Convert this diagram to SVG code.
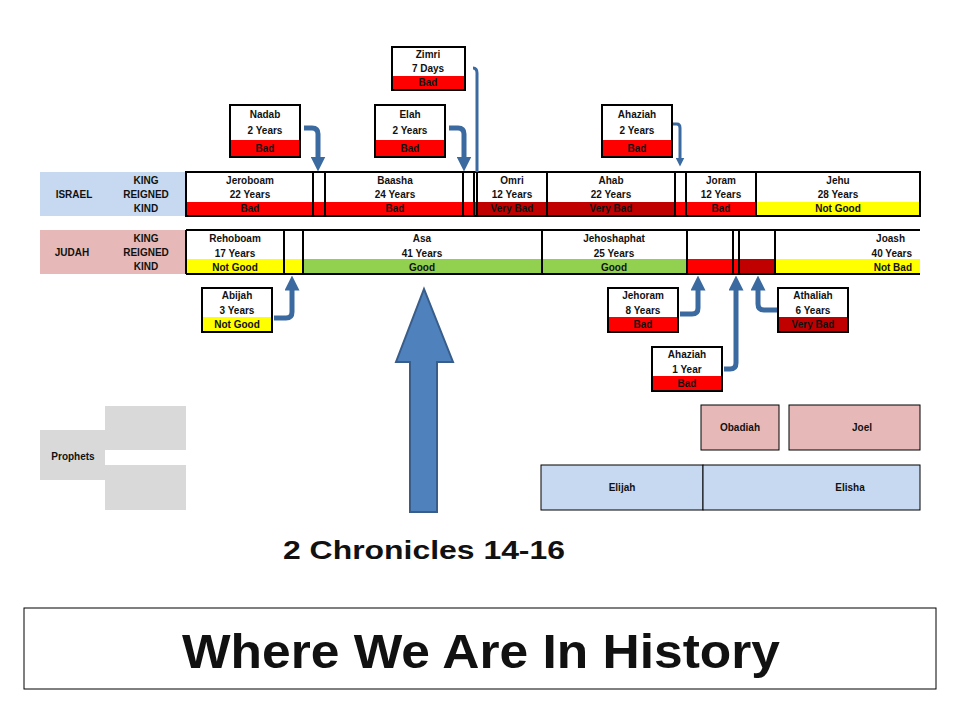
<svg xmlns="http://www.w3.org/2000/svg" width="960" height="720" viewBox="0 0 960 720">
<style>
text{font-family:"Liberation Sans",Arial,sans-serif;font-weight:bold;font-size:10px;fill:#111;text-anchor:middle}
.c{fill:#fff;stroke:#000;stroke-width:2}
.r{fill:#ff0000}.d{fill:#c00000}.y{fill:#ffff00}.g{fill:#92d050}
.ln{fill:none;stroke:#000;stroke-width:2}
.ar{fill:none;stroke:#3b6aa0;stroke-width:5;stroke-linecap:butt}
</style>
<defs>
<marker id="ah" markerWidth="3" markerHeight="3" refX="1.5" refY="1.5" orient="auto"><path d="M0,0L3,1.5L0,3z" fill="#3b6aa0"/></marker>
</defs>
<rect width="960" height="720" fill="#fff"/>
<g id="israel">
<rect x="40" y="172" width="146" height="44" fill="#c6d9f1"/>
<text x="74" y="198">ISRAEL</text>
<text x="146" y="184">KING</text><text x="146" y="198">REIGNED</text><text x="146" y="212">KIND</text>
<rect x="186" y="202" width="734" height="14" class="r"/>
<rect x="477" y="202" width="198" height="14" class="d"/>
<rect x="756" y="202" width="164" height="14" class="y"/>
<rect x="186" y="172" width="734" height="44" class="ln"/>
<path class="ln" d="M313,172V216M325,172V216M463,172V216M474,172V216M477,172V216M547,172V216M675,172V216M686,172V216M756,172V216"/>
<text x="250" y="184">Jeroboam</text><text x="250" y="198">22 Years</text><text x="250" y="212">Bad</text>
<text x="395" y="184">Baasha</text><text x="395" y="198">24 Years</text><text x="395" y="212">Bad</text>
<text x="512" y="184">Omri</text><text x="512" y="198">12 Years</text><text x="512" y="212">Very Bad</text>
<text x="611" y="184">Ahab</text><text x="611" y="198">22 Years</text><text x="611" y="212">Very Bad</text>
<text x="721" y="184">Joram</text><text x="721" y="198">12 Years</text><text x="721" y="212">Bad</text>
<text x="838" y="184">Jehu</text><text x="838" y="198">28 Years</text><text x="838" y="212">Not Good</text>
</g>
<g id="judah">
<rect x="40" y="230" width="146" height="44" fill="#e6b9b8"/>
<text x="72" y="256">JUDAH</text>
<text x="146" y="242">KING</text><text x="146" y="256">REIGNED</text><text x="146" y="270">KIND</text>
<rect x="186" y="259" width="117" height="15" class="y"/>
<rect x="303" y="259" width="384" height="15" class="g"/>
<rect x="687" y="259" width="52" height="15" class="r"/>
<rect x="739" y="259" width="36" height="15" class="d"/>
<rect x="775" y="259" width="145" height="15" class="y"/>
<path class="ln" d="M186,230H920M186,274H920M186,230V274M284,230V274M303,230V274M542,230V274M687,230V274M733,230V274M739,230V274M775,230V274"/>
<text x="235" y="242">Rehoboam</text><text x="235" y="257">17 Years</text><text x="235" y="271">Not Good</text>
<text x="422" y="242">Asa</text><text x="422" y="257">41 Years</text><text x="422" y="271">Good</text>
<text x="614" y="242">Jehoshaphat</text><text x="614" y="257">25 Years</text><text x="614" y="271">Good</text>
<text x="905" y="242" style="text-anchor:end">Joash</text><text x="912" y="257" style="text-anchor:end">40 Years</text><text x="912" y="271" style="text-anchor:end">Not Bad</text>
</g>
<g id="nadab"><rect x="230" y="105" width="70" height="52" class="c"/><rect x="231" y="140" width="68" height="16" class="r"/><text x="265" y="118">Nadab</text><text x="265" y="134">2 Years</text><text x="265" y="152">Bad</text></g>
<g id="elah"><rect x="375" y="105" width="70" height="52" class="c"/><rect x="376" y="140" width="68" height="16" class="r"/><text x="410" y="118">Elah</text><text x="410" y="134">2 Years</text><text x="410" y="152">Bad</text></g>
<g id="zimri"><rect x="392" y="47" width="73" height="43" class="c"/><rect x="393" y="76" width="71" height="13" class="r"/><text x="428" y="58">Zimri</text><text x="428" y="72">7 Days</text><text x="428" y="86">Bad</text></g>
<g id="ahaziah-i"><rect x="602" y="105" width="70" height="52" class="c"/><rect x="603" y="140" width="68" height="16" class="r"/><text x="637" y="118">Ahaziah</text><text x="637" y="134">2 Years</text><text x="637" y="152">Bad</text></g>
<g id="abijah"><rect x="202" y="288" width="70" height="44" class="c"/><rect x="203" y="317" width="68" height="14" class="y"/><text x="237" y="299">Abijah</text><text x="237" y="314">3 Years</text><text x="237" y="328">Not Good</text></g>
<g id="jehoram"><rect x="608" y="288" width="70" height="44" class="c"/><rect x="609" y="317" width="68" height="14" class="r"/><text x="643" y="299">Jehoram</text><text x="643" y="314">8 Years</text><text x="643" y="328">Bad</text></g>
<g id="athaliah"><rect x="778" y="288" width="70" height="44" class="c"/><rect x="779" y="317" width="68" height="14" class="d"/><text x="813" y="299">Athaliah</text><text x="813" y="314">6 Years</text><text x="813" y="328">Very Bad</text></g>
<g id="ahaziah-j"><rect x="652" y="347" width="70" height="44" class="c"/><rect x="653" y="376" width="68" height="14" class="r"/><text x="687" y="358">Ahaziah</text><text x="687" y="373">1 Year</text><text x="687" y="387">Bad</text></g>
<g id="connectors">
<path class="ar" marker-end="url(#ah)" d="M304,128H312Q318,128 318,134V164"/>
<path class="ar" marker-end="url(#ah)" d="M449,128H458Q464,128 464,134V164"/>
<path d="M473,68Q477,68 477,73V172" fill="none" stroke="#3b6aa0" stroke-width="3"/>
<path class="ar" style="stroke-width:3" marker-end="url(#ah)" d="M673,124H677Q680,124 680,128V162"/>
<path class="ar" marker-end="url(#ah)" d="M274,318H286Q292,318 292,312V283"/>
<path class="ar" marker-end="url(#ah)" d="M680,314H692Q698,314 698,308V283"/>
<path class="ar" marker-end="url(#ah)" d="M724,369H730Q736,369 736,363V283"/>
<path class="ar" marker-end="url(#ah)" d="M777,310H764Q758,310 758,304V283"/>
<path d="M410,512V362H396L424,289L453,362H437V512Z" fill="#4f81bd" stroke="#385d8a" stroke-width="2"/>
</g>
<g id="prophets">
<path d="M105,406H186V450H105V465H186V510H105V480H40V430H105Z" fill="#d9d9d9"/>
<text x="73" y="460">Prophets</text>
</g>
<g id="obadiah"><rect x="701" y="405" width="78" height="45" fill="#e6b9b8" stroke="#000"/><text x="740" y="431">Obadiah</text></g>
<g id="joel"><rect x="789" y="405" width="131" height="45" fill="#e6b9b8" stroke="#000"/><text x="862" y="431">Joel</text></g>
<g id="elijah"><rect x="541" y="465" width="162" height="45" fill="#c6d9f1" stroke="#000"/><text x="622" y="491">Elijah</text></g>
<g id="elisha"><rect x="703" y="465" width="217" height="45" fill="#c6d9f1" stroke="#000"/><text x="850" y="491">Elisha</text></g>
<text x="424" y="559" style="font-size:26px" textLength="282" lengthAdjust="spacingAndGlyphs">2 Chronicles 14-16</text>
<rect x="24" y="608" width="912" height="81" fill="#fff" stroke="#000"/>
<text x="481" y="668" style="font-size:48px" textLength="598" lengthAdjust="spacingAndGlyphs">Where We Are In History</text>
</svg>
